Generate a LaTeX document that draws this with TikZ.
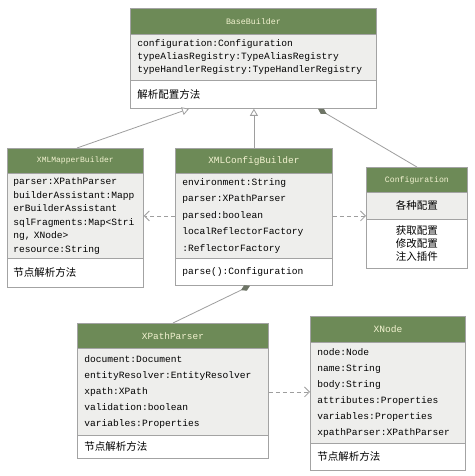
\documentclass[tikz,border=0pt]{standalone}
\usepackage{fontspec}
\setmonofont{Liberation Mono}
\newfontfamily\cjk{Noto Sans CJK SC}
\usetikzlibrary{arrows.meta,calc}
\definecolor{hdrgreen}{HTML}{6D8A57}
\definecolor{hdrtext}{HTML}{F2F2D0}
\definecolor{attrgray}{HTML}{EEEEEC}
\definecolor{bordercol}{HTML}{A3A3A3}
\definecolor{linecol}{HTML}{9E9E9E}
\definecolor{diamcol}{HTML}{6E7566}
\tikzset{
  hdr/.style={draw=bordercol, fill=hdrgreen, text=hdrtext, anchor=north west, inner sep=0pt, line width=0.8pt},
  attr/.style={draw=bordercol, fill=attrgray, anchor=north west, inner xsep=7pt, inner ysep=0pt, align=left, line width=0.8pt, font=\ttfamily\fontsize{9.6}{16}\selectfont},
  meth/.style={draw=bordercol, fill=white, anchor=north west, inner xsep=7pt, inner ysep=0pt, align=left, line width=0.8pt, font=\cjk\fontsize{10.5}{13}\selectfont},
  conn/.style={draw=linecol, line width=0.8pt},
  gen/.style={conn, -{Triangle[open, length=7pt, width=8pt, fill=white]}},
  comp/.style={conn, -{Diamond[length=10pt, width=6pt, color=diamcol, fill=diamcol]}},
  dep/.style={conn, dash pattern=on 4pt off 3pt, -{Straight Barb[length=5pt, width=10pt]}},
}
\begin{document}
\begin{tikzpicture}[x=1pt, y=-1pt]
\useasboundingbox[fill=white] (0,0) rectangle (474,476);

% BaseBuilder
\node[hdr, minimum width=246pt, minimum height=26pt, font=\ttfamily\fontsize{8.3}{10}\selectfont] (baseH) at (130,8) {BaseBuilder};
\node[attr, text width=232pt, minimum height=46pt, font=\ttfamily\fontsize{9.6}{13}\selectfont] (baseA) at (130,34) {configuration:Configuration\\typeAliasRegistry:TypeAliasRegistry\\typeHandlerRegistry:TypeHandlerRegistry};
\node[meth, text width=232pt, minimum height=28pt] (baseM) at (130,80) {解析配置方法};

% XMLMapperBuilder
\node[hdr, minimum width=136pt, minimum height=25pt, font=\ttfamily\fontsize{8}{10}\selectfont] (mapH) at (7,148) {XMLMapperBuilder};
\node[attr, inner xsep=6pt, text width=124pt, minimum height=85pt, font=\ttfamily\fontsize{9.6}{13.5}\selectfont] (mapA) at (7,173) {parser:XPathParser\\builderAssistant:Mapp\\erBuilderAssistant\\sqlFragments:Map<Stri\\ng, XNode>\\resource:String};
\node[meth, inner xsep=6pt, text width=124pt, minimum height=29pt] (mapM) at (7,258) {节点解析方法};

% XMLConfigBuilder
\node[hdr, minimum width=157pt, minimum height=25pt, font=\ttfamily\fontsize{9.5}{11}\selectfont] (cfgH) at (175,148) {XMLConfigBuilder};
\node[attr, text width=143pt, minimum height=85pt, font=\ttfamily\fontsize{9.6}{16.5}\selectfont] (cfgA) at (175,173) {environment:String\\parser:XPathParser\\parsed:boolean\\localReflectorFactory\\:ReflectorFactory};
\node[attr, fill=white, text width=143pt, minimum height=27pt] (cfgM) at (175,258) {parse():Configuration};

% Configuration
\node[hdr, minimum width=101pt, minimum height=25pt, font=\ttfamily\fontsize{8.2}{10}\selectfont] (confH) at (366,167) {Configuration};
\node[attr, align=center, text width=87pt, minimum height=27pt, font=\cjk\fontsize{10.5}{13}\selectfont] (confA) at (366,192) {各种配置};
\node[meth, align=center, text width=87pt, minimum height=49pt] (confM) at (366,219) {获取配置\\修改配置\\注入插件};

% XPathParser
\node[hdr, minimum width=191pt, minimum height=25pt, font=\ttfamily\fontsize{9.4}{11}\selectfont] (xpH) at (77,323) {XPathParser};
\node[attr, text width=177pt, minimum height=87pt] (xpA) at (77,348) {document:Document\\entityResolver:EntityResolver\\xpath:XPath\\validation:boolean\\variables:Properties};
\node[meth, text width=177pt, minimum height=23pt] (xpM) at (77,435) {节点解析方法};

% XNode
\node[hdr, minimum width=155pt, minimum height=26pt, font=\ttfamily\fontsize{9.6}{11}\selectfont] (xnH) at (310,316) {XNode};
\node[attr, text width=141pt, minimum height=101pt] (xnA) at (310,342) {node:Node\\name:String\\body:String\\attributes:Properties\\variables:Properties\\xpathParser:XPathParser};
\node[meth, text width=141pt, minimum height=27pt] (xnM) at (310,443) {节点解析方法};

% connectors
\draw[gen] ([xshift=70pt]mapH.north west) -- ([xshift=59pt]baseM.south west);
\draw[gen] (cfgH.north) -- (cfgH.north |- baseM.south);
\draw[comp] (confH.north) -- ([xshift=188pt]baseM.south west);
\draw[dep] (cfgA.west) -- (mapA.east |- cfgA.west);
\draw[dep] (cfgA.east) -- (confA.west |- cfgA.east);
\draw[comp] ([xshift=96pt]xpH.north west) -- ([xshift=75pt]cfgM.south west);
\draw[dep] (xpA.east) -- (xnA.west |- xpA.east);
\end{tikzpicture}
\end{document}
